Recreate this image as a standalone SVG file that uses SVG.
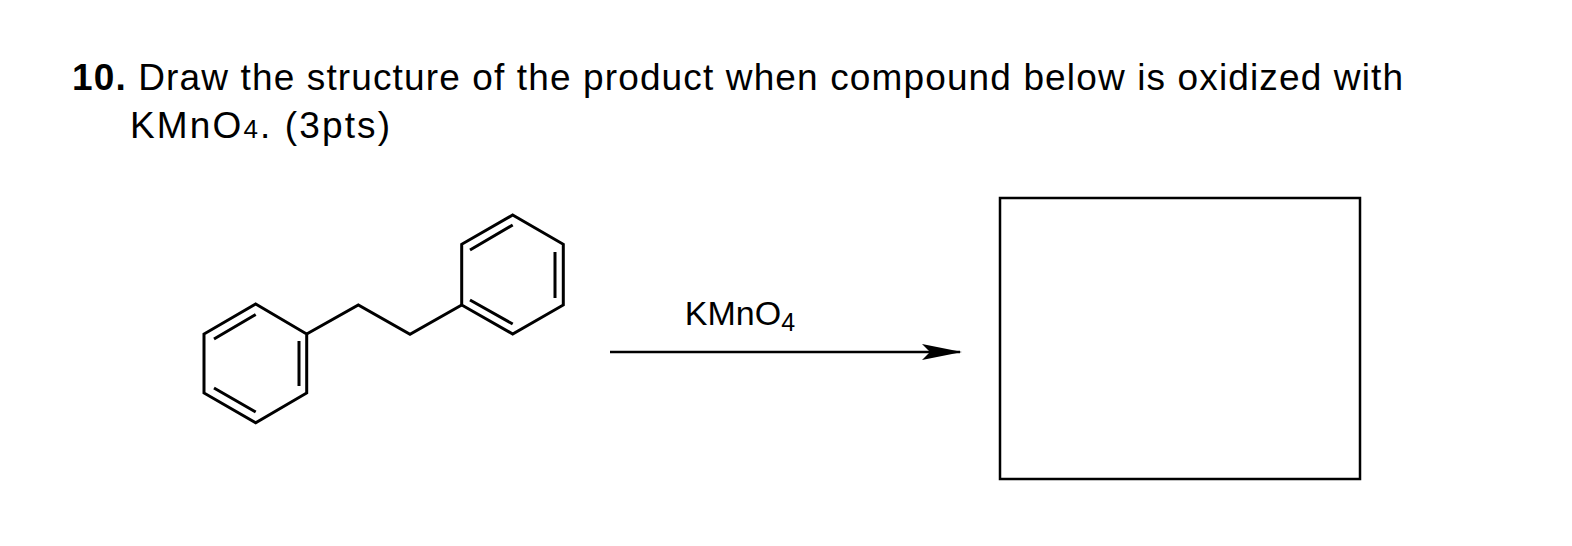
<svg xmlns="http://www.w3.org/2000/svg" width="1572" height="546" viewBox="0 0 1572 546">
<style>
.t{font-family:"Liberation Sans",Arial,sans-serif;fill:#000}
.b{stroke:#000;stroke-width:3;fill:none;stroke-linejoin:miter}
</style>
<defs><marker id="ah" markerWidth="40" markerHeight="16" refX="38" refY="8" orient="auto" markerUnits="userSpaceOnUse"><path d="M0,0 L40,8 L0,16 L8,8 Z" fill="#000"/></marker></defs>
<rect width="1572" height="546" fill="#fff"/>
<g id="question">
<text class="t" x="72" y="90" font-size="37" textLength="1331" lengthAdjust="spacing"><tspan font-weight="bold">10.</tspan> Draw the structure of the product when compound below is oxidized with</text>
<text class="t" x="130" y="138" font-size="37" textLength="260" lengthAdjust="spacing">KMnO<tspan font-size="26">4</tspan>.  (3pts)</text>
</g>
<g id="reactant">
<path class="b" d="M255.7,304 L306.7,334 L306.7,393 L255.7,422.7 L204,393 L204,334 Z"/>
<path class="b" d="M214,339 L255.7,314.5 M299,341 L299,386 M255.7,412 L214,388"/>
<path class="b" d="M306.7,334 L358.3,305 L410,334.3 L461.7,305"/>
<path class="b" d="M512.7,215 L563.3,244.3 L563.3,305 L512.7,334 L461.7,305 L461.7,244.3 Z"/>
<path class="b" d="M470,250 L512.7,225 M555,252 L555,298 M470,300 L512.7,324"/>
</g>
<g id="reagent"><text class="t" x="740" y="325" font-size="34" text-anchor="middle">KMnO<tspan font-size="25" dy="6">4</tspan></text></g>
<g id="connectors"><line x1="610" y1="352" x2="960" y2="352" stroke="#000" stroke-width="2.5" marker-end="url(#ah)"/></g>
<g id="answer-box"><rect x="1000" y="198" width="360" height="281" fill="none" stroke="#000" stroke-width="2.5"/></g>
</svg>
